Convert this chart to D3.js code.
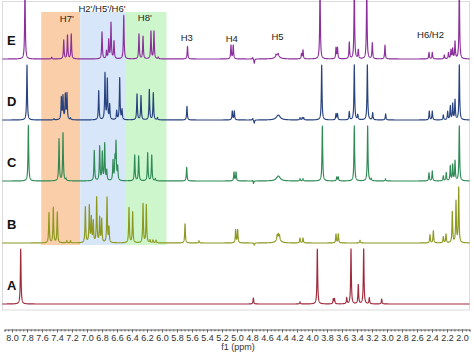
<!DOCTYPE html>
<html>
<head>
<style>
body { margin: 0; background: #fff; }
svg { font-family: "Liberation Sans", Arial, sans-serif; display: block; }
</style>
</head>
<body>
<svg id="nmr"></svg>
<script src="https://cdnjs.cloudflare.com/ajax/libs/d3/7.8.5/d3.min.js"></script>
<script>
// spectra, top to bottom; peaks are [ppm, intensity, halfwidth(optional)]
var spectrumNames = ['E', 'D', 'C', 'B', 'A'];
var spectrumColors = ['#8b2f9c', '#27427f', '#2f8a55', '#8c981e', '#a02a3c'];

var peaksE = [[7.827, 130], [7.47, 3], [7.31, 34], [7.26, 43], [7.21, 45],
  [6.80, 49], [6.74, 14], [6.71, 34], [6.68, 65], [6.64, 32], [6.51, 79],
  [6.307, 45], [6.253, 41], [6.147, 50], [6.107, 50], [6.05, 3],
  [5.66, 23], [5.08, 25], [5.05, 25], [4.79, 3], [4.77, -8],
  [4.46, 7, 0.03], [4.48, 4], [4.45, 4], [4.14, 9], [4.12, 16],
  [3.893, 130], [3.68, 20], [3.66, 20], [3.503, 30], [3.436, 130], [3.383, 16],
  [3.27, 130], [3.196, 29], [3.027, 25],
  [2.44, 12], [2.396, 12], [2.236, 7], [2.18, 11], [2.147, 16], [2.124, 18], [2.093, 31], [2.036, 130]];

var peaksD = [[7.80, 100], [7.44, 2],
  [7.342, 40], [7.32, 42], [7.289, 45], [7.267, 47], [7.22, 3],
  [6.844, 53], [6.76, 84], [6.729, 73], [6.698, 27], [6.604, 16], [6.564, 76], [6.533, 18],
  [6.333, 47], [6.28, 44], [6.169, 55], [6.116, 49], [6.06, 4],
  [5.667, 25], [5.063, 16], [5.036, 16], [4.79, 3], [4.77, -6],
  [4.449, 9, 0.03], [4.16, 4], [4.13, 4], [4.11, 4],
  [3.871, 100], [3.68, 11], [3.66, 11], [3.503, 15], [3.436, 100], [3.39, 9],
  [3.262, 100], [3.191, 13], [3.018, 11],
  [2.436, 16], [2.396, 16], [2.249, 9], [2.191, 15], [2.156, 25], [2.124, 29], [2.093, 36], [2.036, 100]];

var peaksC = [[7.782, 101],
  [7.373, 76], [7.32, 87], [7.28, 4],
  [6.903, 55], [6.831, 62], [6.796, 51], [6.764, 67], [6.737, 18], [6.653, 36], [6.627, 38], [6.613, 67], [6.591, 24],
  [6.364, 47], [6.311, 45], [6.191, 51], [6.137, 47], [6.09, 4],
  [5.671, 25], [5.04, 16], [5.013, 16], [4.79, 2], [4.78, -5],
  [4.449, 9, 0.03], [4.16, 4], [4.12, 4],
  [3.862, 100], [3.67, 7], [3.65, 7], [3.436, 100], [3.258, 100], [3.21, 4], [3.02, 4],
  [2.44, 15], [2.396, 18], [2.249, 9], [2.21, 15], [2.156, 27], [2.124, 29], [2.093, 36], [2.036, 100]];

var peaksB = [[7.507, 55], [7.449, 64], [7.396, 56], [7.27, 4], [7.22, 4],
  [7.022, 65], [6.969, 67], [6.942, 45], [6.916, 38], [6.871, 82], [6.831, 45], [6.804, 42], [6.733, 82], [6.707, 27],
  [6.44, 64], [6.391, 56], [6.253, 71], [6.209, 69], [6.16, 5], [6.12, 5], [6.08, 5],
  [5.693, 35], [5.507, 4], [5.018, 24], [4.991, 24], [4.77, -4],
  [4.449, 8, 0.03], [4.465, 8], [4.449, 8], [4.433, 8], [4.16, 9], [4.12, 9],
  [3.68, 16], [3.649, 16], [3.36, 5],
  [2.427, 15], [2.382, 22], [2.249, 11], [2.213, 16], [2.129, 56], [2.08, 75], [2.044, 100]];

var peaksA = [[7.884, 100], [4.782, 11], [4.16, 4], [3.929, 100], [3.716, 9], [3.7, 9], [3.537, 11],
  [3.48, 100], [3.383, 35], [3.311, 100], [3.236, 11], [3.071, 9]];

var allPeaks = [peaksE, peaksD, peaksC, peaksB, peaksA];

// shaded regions and assignments
var bandRanges = [[7.61, 7.09], [7.09, 6.48], [6.48, 5.94]];
var bandColors = ['#f9cea8', '#d7e6f8', '#cdf6cd'];
var assignLabels = ["H7'", "H2'/H5'/H6'", "H8'", 'H3', 'H4', 'H5', 'H6/H2'];
var assignPpm = [7.27, 6.80, 6.23, 5.67, 5.07, 4.46, 2.42];
var assignLevel = [16, 6, 15, 35, 36, 34, 32];

var tickValues = d3.range(0, 31).map(function(i) { return +(8 - i * 0.2).toFixed(1); });

var width = 474, height = 353;
var svg = d3.select('#nmr').attr('width', width).attr('height', height);

var x = d3.scaleLinear().domain([8.1, 1.9]).range([4.5, 469.5]);
var baselines = [59, 120, 181, 243, 304];
var y = d3.scaleLinear().domain([0, 100]).range([0, 55]);

// frame
svg.append('rect')
  .attr('x', 2.5).attr('y', 1.5).attr('width', 467).attr('height', 308.5)
  .attr('fill', 'none').attr('stroke', '#dcdcdc');

svg.selectAll('rect.band')
  .data(bandRanges)
  .enter().append('rect')
  .attr('class', 'band')
  .attr('x', function(d) { return x(d[0]); })
  .attr('width', function(d) { return x(d[1]) - x(d[0]); })
  .attr('y', 12).attr('height', 233)
  .attr('fill', function(d, i) { return bandColors[i]; });

var grid = d3.range(8.13, 1.9, -0.001);

function trace(peaks) {
  return grid.map(function(p) {
    var s = 0;
    peaks.forEach(function(k) {
      var g = k[2] || 0.0055;
      var dx = p - k[0];
      s += k[1] * g * g / (dx * dx + g * g);
    });
    return [p, s];
  });
}

allPeaks.forEach(function(peaks, i) {
  var line = d3.line()
    .x(function(d) { return x(d[0]); })
    .y(function(d) { return baselines[i] - y(d[1]); });
  svg.append('path')
    .datum(trace(peaks))
    .attr('fill', 'none')
    .attr('stroke', spectrumColors[i])
    .attr('stroke-width', 1.15)
    .attr('stroke-linejoin', 'round')
    .attr('d', line);
  svg.append('text')
    .attr('x', 7).attr('y', baselines[i] - 14)
    .attr('font-size', 13).attr('font-weight', 'bold')
    .attr('fill', '#111')
    .text(spectrumNames[i]);
});

svg.selectAll('text.assign')
  .data(assignLabels)
  .enter().append('text')
  .attr('class', 'assign')
  .attr('x', function(d, i) { return x(assignPpm[i]); })
  .attr('y', function(d, i) { return assignLevel[i] + 6; })
  .attr('text-anchor', 'middle')
  .attr('font-size', 9.5).attr('fill', '#222')
  .text(function(d) { return d; });

// axis
var axis = svg.append('g').attr('transform', 'translate(0,329.5)');
axis.call(d3.axisBottom(x).tickValues(d3.range(0, 125).map(function(i) { return 8.1 - i * 0.05; }))
  .tickSize(2).tickFormat(''));
axis.call(function(g) {
  g.select('.domain').attr('stroke', '#666');
  g.selectAll('.tick line').attr('stroke', '#666');
});
var major = svg.append('g').attr('transform', 'translate(0,329.5)');
major.call(d3.axisBottom(x).tickValues(tickValues).tickSize(3).tickPadding(2)
  .tickFormat(d3.format('.1f')));
major.select('.domain').remove();
major.selectAll('.tick line').attr('stroke', '#666');
major.selectAll('.tick text').attr('font-size', 9).attr('fill', '#333')
  .attr('font-family', '"Liberation Sans", Arial, sans-serif');

svg.append('text')
  .attr('x', 238).attr('y', 350)
  .attr('text-anchor', 'middle')
  .attr('font-size', 9).attr('fill', '#333')
  .text('f1 (ppm)');
</script>
</body>
</html>
